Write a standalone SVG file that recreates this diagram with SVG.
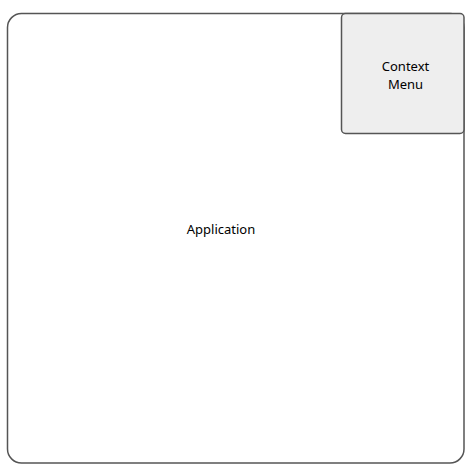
<svg xmlns="http://www.w3.org/2000/svg" width="474" height="474" viewBox="0 0 474 474">
<style>
.box{stroke:#555555;stroke-width:1.5}
.lbl{font-family:"Noto Sans","Liberation Sans",sans-serif;font-size:13px;fill:#000000;text-anchor:middle;dominant-baseline:central}
</style>
<rect width="474" height="474" fill="#ffffff"/>
<g id="application">
<rect class="box" x="7.5" y="13.5" width="456.5" height="449.5" rx="14" ry="14" fill="#ffffff"/>
<text class="lbl" x="221" y="229">Application</text>
</g>
<g id="context-menu">
<rect class="box" x="341.5" y="13.5" width="122.5" height="120" rx="4" ry="4" fill="#eeeeee"/>
<text class="lbl" x="405.5" y="66">Context</text>
<text class="lbl" x="405.5" y="83.5">Menu</text>
</g>
<g id="connectors"></g>
</svg>
